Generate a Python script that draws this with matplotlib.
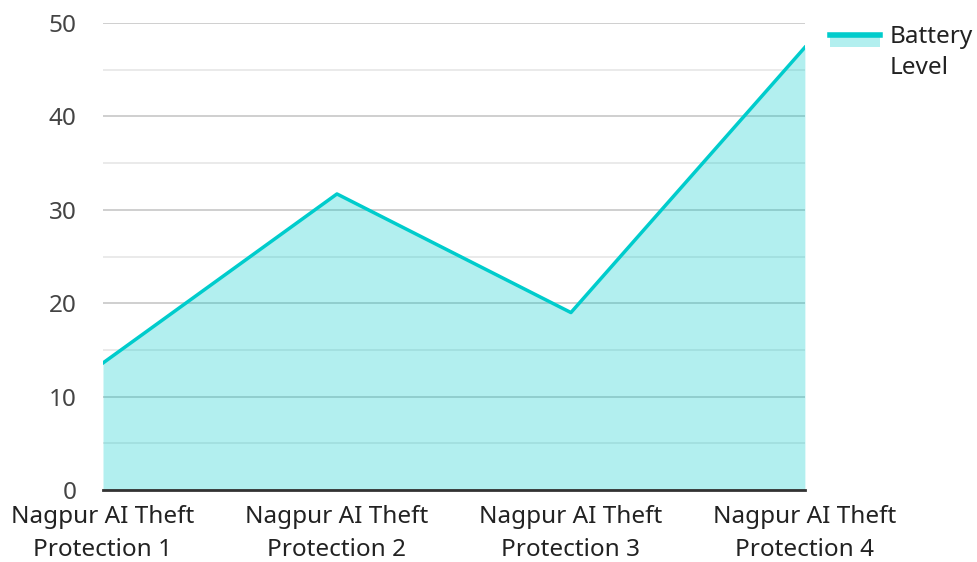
import matplotlib.pyplot as plt
from matplotlib.lines import Line2D
from matplotlib.patches import Rectangle
from matplotlib.ticker import MultipleLocator

plt.rcParams['font.family'] = ['Noto Sans', 'DejaVu Sans']

categories = ['Nagpur AI Theft\nProtection 1', 'Nagpur AI Theft\nProtection 2',
              'Nagpur AI Theft\nProtection 3', 'Nagpur AI Theft\nProtection 4']
battery_level = [13.6, 31.7, 19.0, 47.4]
series_name = 'Battery\nLevel'

line_col = '#00cccc'
fs = 17.5

fig = plt.figure(figsize=(9.78, 5.62), dpi=100)
ax = fig.add_axes([0.1053, 0.1281, 0.7177, 0.8309])

x = list(range(len(categories)))
ax.fill_between(x, 0, battery_level, color=line_col, alpha=0.3, lw=0, zorder=2)
ax.plot(x, battery_level, color=line_col, lw=2.5, zorder=3)

ax.set_xlim(0, len(categories) - 1)
ax.set_ylim(0, 50)
ax.yaxis.set_major_locator(MultipleLocator(10))
ax.yaxis.set_minor_locator(MultipleLocator(5))
ax.set_xticks(x)
ax.set_xticklabels(categories, fontsize=fs, color='#222222', linespacing=1.5)
ax.tick_params(axis='y', which='both', length=0, labelsize=fs, labelcolor='#444444', pad=19)
ax.tick_params(axis='x', length=0, pad=11)

ax.grid(axis='y', which='major', color='#cccccc', lw=1.3, zorder=1)
ax.grid(axis='y', which='minor', color='#e8e8e8', lw=1.3, zorder=1)
ax.set_axisbelow(True)

for side in ['top', 'right', 'left']:
    ax.spines[side].set_visible(False)
ax.spines['bottom'].set_color('#333333')
ax.spines['bottom'].set_linewidth(2)
ax.spines['bottom'].set_zorder(4)

# legend drawn by hand: fill swatch with the line on its top edge
fig.patches.append(Rectangle((0.8487, 0.9164), 0.0511, 0.0213, transform=fig.transFigure,
                             facecolor=line_col, alpha=0.3, lw=0))
fig.lines.append(Line2D([0.8487, 0.8998], [0.9377, 0.9377], transform=fig.transFigure,
                        color=line_col, lw=4))
fig.text(0.910, 0.955, series_name, fontsize=fs, color='#222222', va='top', ha='left',
         linespacing=1.4)

fig.savefig('out.png', dpi=100)
